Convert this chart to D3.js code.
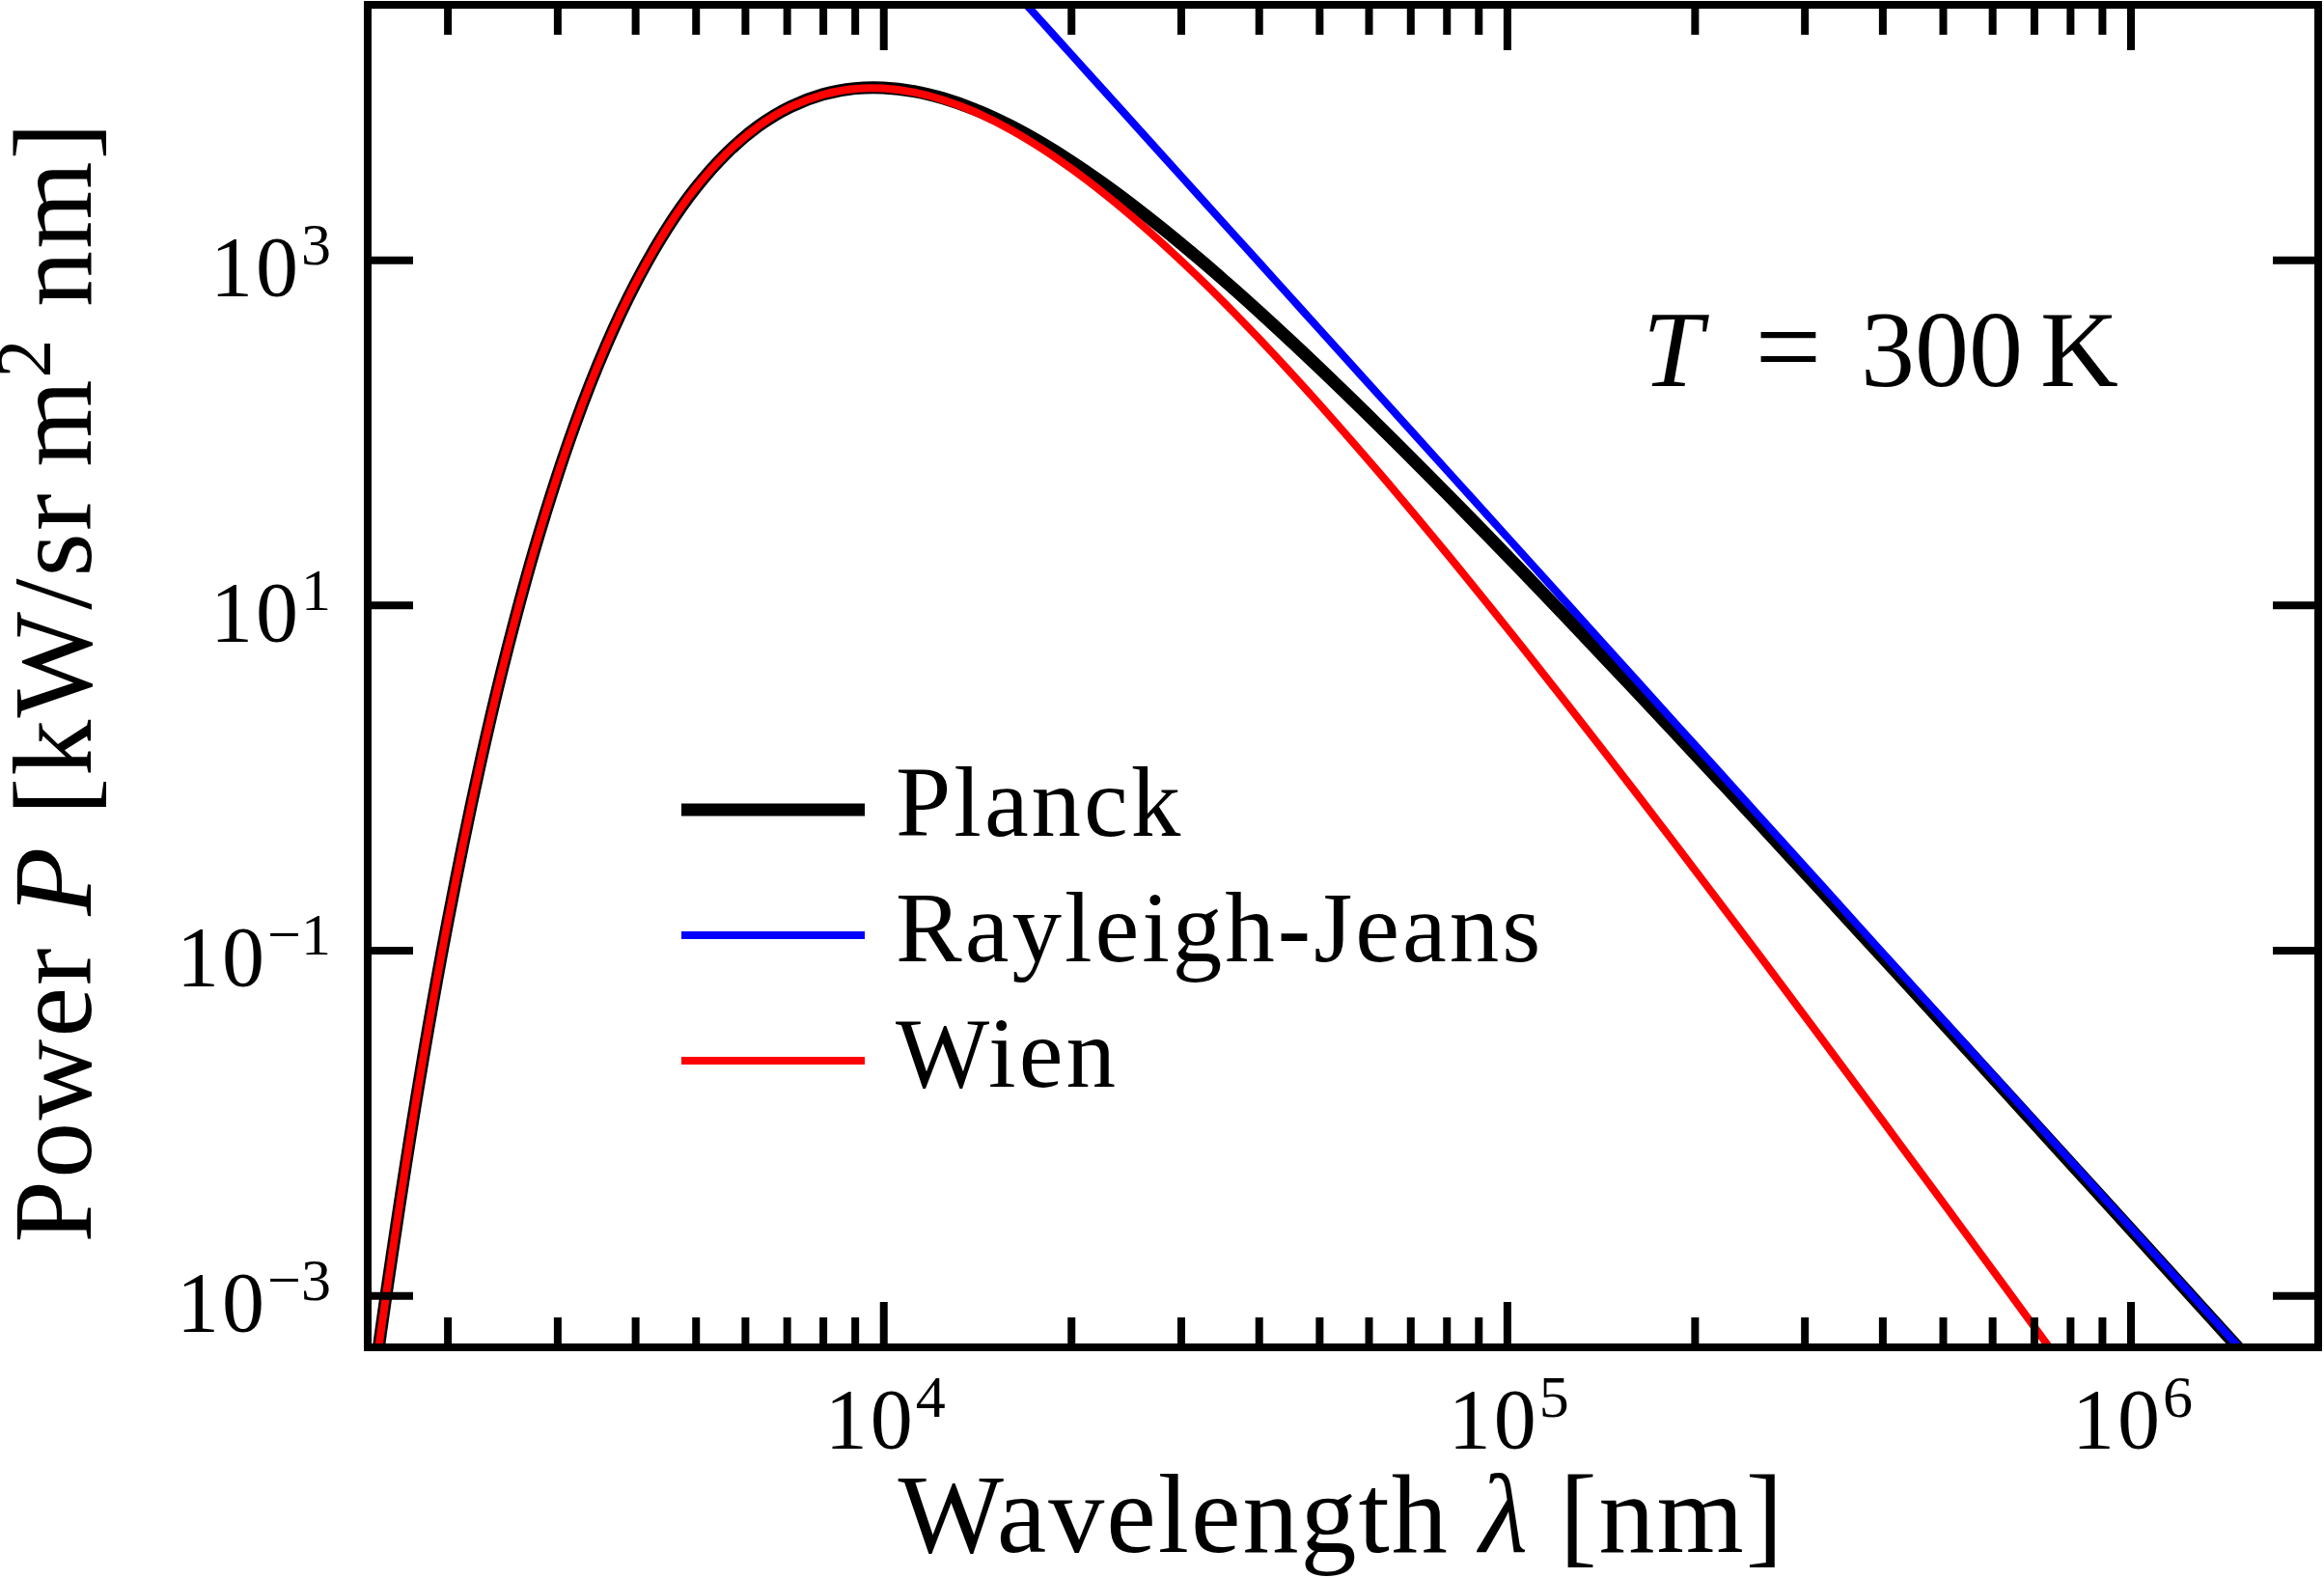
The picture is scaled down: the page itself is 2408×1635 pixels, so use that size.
<!DOCTYPE html>
<html>
<head>
<meta charset="utf-8">
<script src="https://cdn.jsdelivr.net/npm/d3@7"></script>
<style>
    body { margin: 0; background: #fff; }
    text { font-family: 'Liberation Serif', 'Times New Roman', serif; fill: #000; }
</style>
</head>
<body>
<div id="chart"></div>
<script>
// Wavelength samples [nm]
const wavelengthNm = [1500, 1600, 1800, 2000, 2250, 2500, 2800, 3200, 3600, 4000, 4500, 5000,
    5600, 6300, 7100, 8000, 9000, 10000, 11200, 12500, 14000, 16000, 18000, 20000, 22500,
    25000, 28000, 32000, 36000, 40000, 45000, 50000, 63000, 80000, 100000, 125000, 160000,
    200000, 250000, 320000, 400000, 500000, 630000, 800000, 1000000, 1250000, 1600000, 2000000];

// Power values for each series, same order as wavelengthNm
const planck = [2.04e-4, 1.090e-3, 0.01691, 0.1434, 1.143, 5.686, 25.20, 110.0, 322.6, 722.0,
    1519, 2603, 4128, 5935, 7701, 9078, 9830, 9924, 9467, 8600, 7447, 5968, 4718, 3722, 2781,
    2099, 1522, 1021, 706.3, 502.1, 339.2, 236.8, 105.2, 44.27, 19.35, 8.347, 3.250, 1.374,
    0.5767, 0.2196, 0.09128, 0.03788, 0.01518, 0.005885, 0.002424, 9.978e-4, 3.733e-4, 1.534e-4];

const rayleighJeans = [4.91e8, 3.79e8, 2.366e8, 1.552e8, 9.69e7, 6.36e7, 4.04e7, 2.37e7, 1.479e7,
    9.70e6, 6.06e6, 3.97e6, 2.525e6, 1.576e6, 9.77e5, 6.06e5, 3.785e5, 2.483e5, 1.578e5, 1.0172e5,
    6.465e4, 3.789e4, 2.366e4, 1.552e4, 9690, 6359, 4041, 2368, 1478, 970.2, 605.7, 397.2, 157.6,
    60.64, 24.83, 10.17, 3.789, 1.552, 0.6358, 0.2368, 0.09701, 0.03973, 0.01577, 0.006065,
    0.002483, 0.001017, 3.789e-4, 1.552e-4];

const wien = [2.04e-4, 1.090e-3, 0.01691, 0.1434, 1.143, 5.686, 25.20, 110.0, 322.6, 722.0,
    1518, 2603, 4127, 5932, 7692, 9055, 9782, 9842, 9336, 8417, 7205, 5670, 4389, 3383, 2451,
    1791, 1248, 793.1, 519.8, 350.6, 222.3, 146.0, 56.06, 19.96, 7.373, 2.659, 0.8416, 0.2928,
    0.1007, 0.03055, 0.01031, 0.003462, 0.001112, 3.423e-4, 1.135e-4, 3.755e-5, 1.103e-5, 3.635e-6];

const seriesNames = ['Planck', 'Rayleigh-Jeans', 'Wien'];
const seriesColors = ['#000000', '#0000ff', '#ff0000'];

const xMajorTicks = [1e4, 1e5, 1e6];
const xTickExponents = [4, 5, 6];
const yMajorTicks = [1e-3, 1e-1, 1e1, 1e3];
const yTickExponents = [-3, -1, 1, 3];

const W = 2408, H = 1635;
const plot = { left: 381, right: 2402, top: 5, bottom: 1396 };

const svg = d3.select('#chart')
    .append('svg')
    .attr('width', W)
    .attr('height', H);

const x = d3.scaleLog()
    .domain([1490, 2.0e6])
    .range([plot.left, plot.right]);

const y = d3.scaleLog()
    .domain([5e-4, 3e4])
    .range([plot.bottom, plot.top]);

// minor ticks: 2..9 of every decade inside the domain
const xMinorTicks = [];
[1e3, 1e4, 1e5].forEach(dec => {
    for (let k = 2; k <= 9; k++) {
        const v = k * dec;
        if (v > x.domain()[0] && v < x.domain()[1]) xMinorTicks.push(v);
    }
});

svg.append('defs')
    .append('clipPath')
    .attr('id', 'plot-clip')
    .append('rect')
    .attr('x', plot.left)
    .attr('y', plot.top)
    .attr('width', plot.right - plot.left)
    .attr('height', plot.bottom - plot.top);

// curves
const lineGroup = svg.append('g').attr('clip-path', 'url(#plot-clip)');
const series = [planck, rayleighJeans, wien];
const widths = [13, 8, 8];

const line = d3.line()
    .x(d => x(d[0]))
    .y(d => y(d[1]))
    .curve(d3.curveCatmullRom.alpha(0.5));

series.forEach((vals, i) => {
    lineGroup.append('path')
        .datum(wavelengthNm.map((w, j) => [w, vals[j]]))
        .attr('fill', 'none')
        .attr('stroke', seriesColors[i])
        .attr('stroke-width', widths[i])
        .attr('stroke-linejoin', 'round')
        .attr('d', line);
});

// ticks, all pointing inward
const majorLen = 47, minorLen = 31, tickW = 8;

function styleAxis(g) {
    g.select('.domain').remove();
    g.selectAll('.tick line').attr('stroke-width', tickW);
    g.selectAll('.tick text').remove();
}

svg.append('g')
    .attr('transform', `translate(0,${plot.bottom})`)
    .call(d3.axisBottom(x).tickValues(xMajorTicks).tickSize(-majorLen).tickFormat(''))
    .call(styleAxis);
svg.append('g')
    .attr('transform', `translate(0,${plot.bottom})`)
    .call(d3.axisBottom(x).tickValues(xMinorTicks).tickSize(-minorLen).tickFormat(''))
    .call(styleAxis);
svg.append('g')
    .attr('transform', `translate(0,${plot.top})`)
    .call(d3.axisTop(x).tickValues(xMajorTicks).tickSize(-majorLen).tickFormat(''))
    .call(styleAxis);
svg.append('g')
    .attr('transform', `translate(0,${plot.top})`)
    .call(d3.axisTop(x).tickValues(xMinorTicks).tickSize(-minorLen).tickFormat(''))
    .call(styleAxis);
svg.append('g')
    .attr('transform', `translate(${plot.left},0)`)
    .call(d3.axisLeft(y).tickValues(yMajorTicks).tickSize(-majorLen).tickFormat(''))
    .call(styleAxis);
svg.append('g')
    .attr('transform', `translate(${plot.right},0)`)
    .call(d3.axisRight(y).tickValues(yMajorTicks).tickSize(-majorLen).tickFormat(''))
    .call(styleAxis);

// frame
svg.append('rect')
    .attr('x', plot.left)
    .attr('y', plot.top)
    .attr('width', plot.right - plot.left)
    .attr('height', plot.bottom - plot.top)
    .attr('fill', 'none')
    .attr('stroke', '#000')
    .attr('stroke-width', 8);

// tick labels as 10^k
const tickFont = 88, supFont = 62, supShift = 32;

function powerLabel(sel, exp) {
    sel.append('tspan').attr('letter-spacing', 3).text('10');
    sel.append('tspan')
        .attr('dy', -supShift)
        .attr('font-size', supFont)
        .text(exp < 0 ? '\u2212' + (-exp) : String(exp));
}

xMajorTicks.forEach((v, i) => {
    svg.append('text')
        .attr('x', x(v) + 2)
        .attr('y', 1500)
        .attr('text-anchor', 'middle')
        .attr('font-size', tickFont)
        .call(powerLabel, xTickExponents[i]);
});

yMajorTicks.forEach((v, i) => {
    svg.append('text')
        .attr('x', 343)
        .attr('y', y(v) + 37)
        .attr('text-anchor', 'end')
        .attr('font-size', tickFont)
        .call(powerLabel, yTickExponents[i]);
});

// axis titles
const xTitle = svg.append('text')
    .attr('x', 1390)
    .attr('y', 1608)
    .attr('text-anchor', 'middle')
    .attr('font-size', 116)
    .attr('letter-spacing', 2);
xTitle.append('tspan').text('Wavelength ');
xTitle.append('tspan').attr('font-style', 'italic').text('\u03bb');
xTitle.append('tspan').text(' [nm]');

const yTitle = svg.append('text')
    .attr('transform', 'translate(94,706) rotate(-90)')
    .attr('text-anchor', 'middle')
    .attr('font-size', 116)
    .attr('letter-spacing', 2.2);
yTitle.append('tspan').text('Power ');
yTitle.append('tspan').attr('font-style', 'italic').text('P');
yTitle.append('tspan').text(' [kW/sr\u2009m');
yTitle.append('tspan').attr('dy', -42).attr('font-size', 80).text('2');
yTitle.append('tspan').attr('dy', 42).text(' nm]');

// temperature note
const note = svg.append('text')
    .attr('y', 400)
    .attr('font-size', 112);
note.append('tspan').attr('x', 1702).attr('font-style', 'italic').text('T');
note.append('tspan').attr('x', 1853).attr('text-anchor', 'middle')
    .attr('font-size', 122).text('=');
note.append('tspan').attr('x', 1928).text('300');
note.append('tspan').attr('x', 2114).text('K');

// legend
const legend = svg.append('g').attr('transform', 'translate(706,839)');
seriesNames.forEach((name, i) => {
    const row = legend.append('g').attr('transform', `translate(0,${i * 130})`);
    row.append('line')
        .attr('x1', 0)
        .attr('x2', 190)
        .attr('stroke', seriesColors[i])
        .attr('stroke-width', widths[i]);
    row.append('text')
        .attr('x', 222)
        .attr('y', 27)
        .attr('font-size', 103)
        .attr('letter-spacing', 3)
        .text(name);
});
</script>
</body>
</html>
